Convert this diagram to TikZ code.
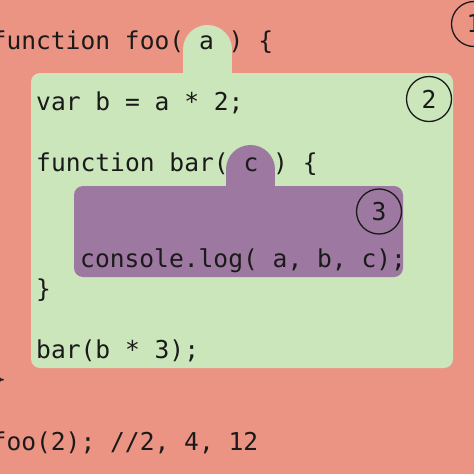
\documentclass[tikz,border=0pt]{standalone}
\usepackage{fontspec}
\setmonofont{DejaVu Sans Mono}
\usepackage{xcolor}
\definecolor{globalbg}{RGB}{236,148,132}
\definecolor{fooscope}{RGB}{202,230,186}
\definecolor{barscope}{RGB}{157,120,160}
\definecolor{ink}{RGB}{26,26,26}

\begin{document}
\begin{tikzpicture}[
  x=1pt, y=-1pt,
  code/.style={anchor=base west, inner sep=0pt, text=ink, font=\fontsize{24.6}{30}\ttfamily},
  bubble/.style={draw=ink, line width=1.3pt, circle, minimum size=45pt, inner sep=0pt, text=ink, font=\fontsize{24.6}{30}\ttfamily}
]
\clip (0,0) rectangle (474,474);
\fill[globalbg] (0,0) rectangle (474,474);

% scope of foo
\fill[fooscope, rounded corners=9pt] (31,73) rectangle (453,368);
\fill[fooscope] (183,49.5) rectangle (232,76);
\fill[fooscope] (207.5,49.5) circle[radius=24.5pt];

% scope of bar
\fill[barscope, rounded corners=9pt] (74,186) rectangle (403,277);
\fill[barscope] (226,169.5) rectangle (275,189);
\fill[barscope] (250.5,169.5) circle[radius=24.5pt];

% code lines
\node[code] (foo) at (-8.5,49) {function foo( a ) \{};
\node[code] (varb) at (36,110) {var b = a * 2;};
\node[code] (bar) at (36,171) {function bar( c ) \{};
\node[code] (log) at (80,267) {console.log( a, b, c);};
\node[code] (barend) at (36,297) {\}};
\node[code] (callbar) at (36,358) {bar(b * 3);};
\node[code] (fooend) at (-8.5,387) {\}};
\node[code] (call) at (-8.5,450) {foo(2); //2, 4, 12};

% scope numbers
\node[bubble] (s1) at (474,24) {1};
\node[bubble] (s2) at (429,99) {2};
\node[bubble] (s3) at (379,211.5) {3};
\end{tikzpicture}
\end{document}
